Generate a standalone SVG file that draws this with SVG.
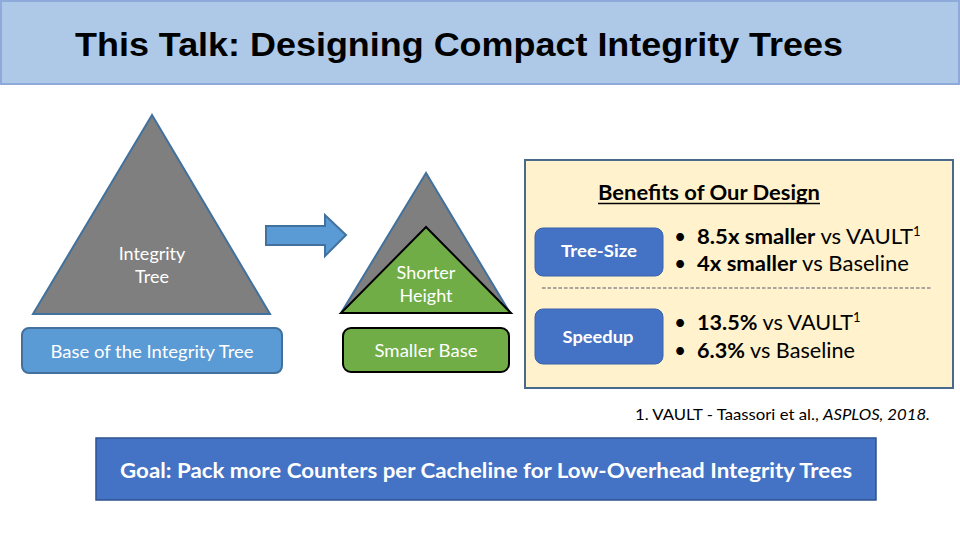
<svg xmlns="http://www.w3.org/2000/svg" width="960" height="540" viewBox="0 0 960 540">
<style>
.cal{font-family:Lato,"Open Sans","Liberation Sans",sans-serif}
.w{fill:#ffffff}
.b{font-weight:bold}
.tri{fill:#7f7f7f;stroke:#41719c;stroke-width:2}
.blue{fill:#5b9bd5;stroke:#41719c;stroke-width:2}
.green{fill:#70ad47;stroke:#000000;stroke-width:2}
.dark{fill:#4472c4;stroke:#3a62ab;stroke-width:1}
</style>
<rect width="960" height="540" fill="#ffffff"/>
<g id="title">
<rect x="1" y="1" width="958" height="83" fill="#adc9e7" stroke="#8eaadb" stroke-width="2"/>
<text x="75" y="56" font-family="'Liberation Sans',Arial,sans-serif" font-size="34" font-weight="bold" fill="#000000" textLength="768" lengthAdjust="spacingAndGlyphs">This Talk: Designing Compact Integrity Trees</text>
</g>
<g id="integrity-tree">
<polygon class="tri" points="152,115 33,314 270,314"/>
<text class="cal w" font-size="18" text-anchor="middle" x="152" y="260">Integrity</text>
<text class="cal w" font-size="18" text-anchor="middle" x="152" y="283">Tree</text>
</g>
<g id="base-integrity-tree">
<rect class="blue" x="22" y="328" width="260" height="45" rx="7"/>
<text class="cal w" font-size="17" text-anchor="middle" x="152" y="358" textLength="203" lengthAdjust="spacingAndGlyphs">Base of the Integrity Tree</text>
</g>
<g id="connectors">
<polygon class="blue" points="266,226 325,226 325,215 346,235 325,256 325,245 266,245"/>
</g>
<g id="compact-tree">
<polygon class="tri" points="426,173 341,313 510,313"/>
<polygon class="green" points="426,227 341,313 511,313"/>
<text class="cal w" font-size="18" text-anchor="middle" x="426" y="279">Shorter</text>
<text class="cal w" font-size="18" text-anchor="middle" x="426" y="302">Height</text>
</g>
<g id="smaller-base">
<rect class="green" x="343" y="328" width="166" height="44" rx="8"/>
<text class="cal w" font-size="17" text-anchor="middle" x="426" y="357" textLength="103" lengthAdjust="spacingAndGlyphs">Smaller Base</text>
</g>
<g id="benefits">
<rect x="525" y="160" width="428" height="228" fill="#fff2cc" stroke="#4a6a8c" stroke-width="2"/>
<text class="cal b" font-size="20" x="598" y="200" fill="#000000" textLength="222" lengthAdjust="spacingAndGlyphs">Benefits of Our Design</text>
<line x1="598" y1="203.5" x2="820" y2="203.5" stroke="#000000" stroke-width="1.5"/>
<line x1="542" y1="288" x2="932" y2="288" stroke="#8c8c8c" stroke-width="1.5" stroke-dasharray="3.5,2"/>
</g>
<g id="tree-size">
<rect class="dark" x="535" y="228" width="128" height="48" rx="8"/>
<text class="cal b w" font-size="17" text-anchor="middle" x="599" y="257" textLength="76" lengthAdjust="spacingAndGlyphs">Tree-Size</text>
</g>
<g id="tree-size-results" class="cal" font-size="21" fill="#000000">
<text x="674" y="244">•</text>
<text x="697" y="244" textLength="216" lengthAdjust="spacingAndGlyphs"><tspan font-weight="bold">8.5x smaller</tspan> vs VAULT</text>
<text x="913" y="236" font-size="13">1</text>
<text x="674" y="271">•</text>
<text x="697" y="271" textLength="212" lengthAdjust="spacingAndGlyphs"><tspan font-weight="bold">4x smaller</tspan> vs Baseline</text>
</g>
<g id="speedup">
<rect class="dark" x="535" y="309" width="128" height="55" rx="8"/>
<text class="cal b w" font-size="17" text-anchor="middle" x="598" y="343" textLength="71" lengthAdjust="spacingAndGlyphs">Speedup</text>
</g>
<g id="speedup-results" class="cal" font-size="21" fill="#000000">
<text x="674" y="330">•</text>
<text x="697" y="330" textLength="156" lengthAdjust="spacingAndGlyphs"><tspan font-weight="bold">13.5%</tspan> vs VAULT</text>
<text x="853" y="322" font-size="13">1</text>
<text x="674" y="358">•</text>
<text x="697" y="358" textLength="158" lengthAdjust="spacingAndGlyphs"><tspan font-weight="bold">6.3%</tspan> vs Baseline</text>
</g>
<g id="footnote">
<text class="cal" font-size="15" x="635" y="420" fill="#000000" textLength="295" lengthAdjust="spacingAndGlyphs">1. VAULT - Taassori et al., <tspan font-style="italic">ASPLOS, 2018.</tspan></text>
</g>
<g id="goal">
<rect x="96" y="438" width="780" height="62" fill="#4472c4" stroke="#2f528f" stroke-width="1.5"/>
<text class="cal b w" font-size="20" x="120" y="478" textLength="732" lengthAdjust="spacingAndGlyphs">Goal: Pack more Counters per Cacheline for Low-Overhead Integrity Trees</text>
</g>
</svg>
